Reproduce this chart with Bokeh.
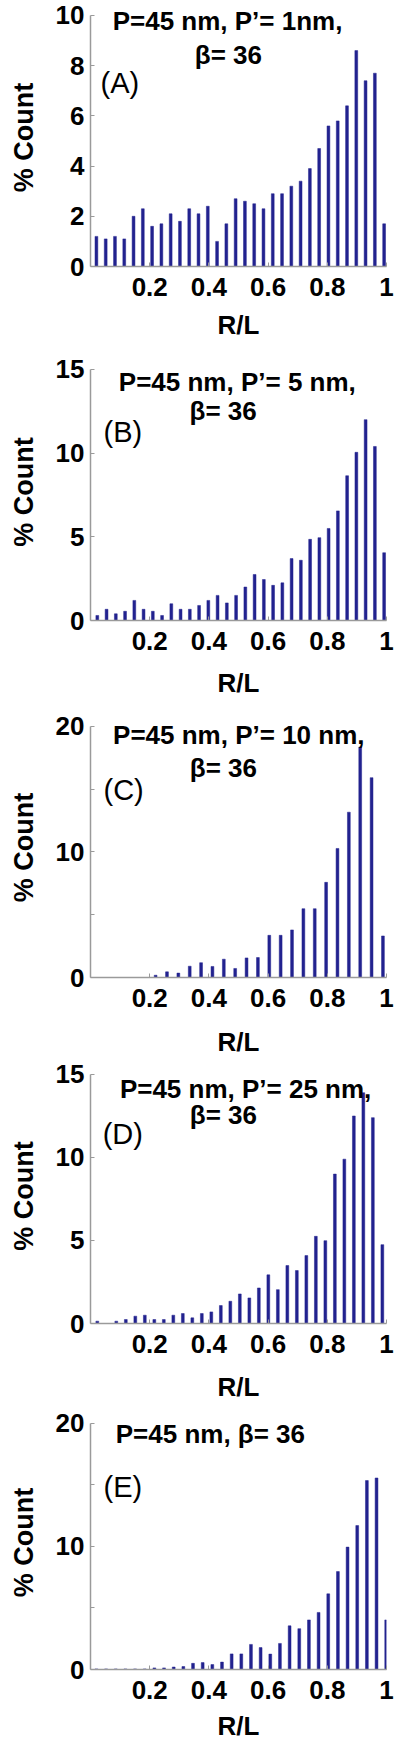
import numpy as np
from bokeh.plotting import figure
from bokeh.layouts import column
from bokeh.models import Range1d, FixedTicker, Label
from bokeh.embed import file_html
from bokeh.resources import INLINE

# ---------------- data ----------------
rl_ticks = [0.2, 0.4, 0.6, 0.8, 1.0]

# (A) P=45 nm, P'=1 nm
a_centers = np.linspace(0.020, 0.992, 32)
a_count = [1.2, 1.1, 1.2, 1.1, 2.0, 2.3, 1.6, 1.7, 2.1, 1.8, 2.3, 2.1, 2.4, 1.0, 1.7, 2.7,
           2.6, 2.5, 2.3, 2.9, 2.9, 3.2, 3.4, 3.9, 4.7, 5.6, 5.8, 6.4, 8.6, 7.4, 7.7, 1.7]
a_yticks = [0, 2, 4, 6, 8, 10]

# (B) P=45 nm, P'=5 nm
b_centers = np.linspace(0.023, 0.992, 32)
b_count = [0.3, 0.67, 0.4, 0.55, 1.2, 0.67, 0.55, 0.3, 1.0, 0.67, 0.67, 0.9, 1.2, 1.5, 1.05, 1.5,
           2.0, 2.75, 2.45, 2.1, 2.25, 3.7, 3.6, 4.85, 4.95, 5.5, 6.55, 8.65, 10.05, 12.0, 10.4, 4.05]
b_yticks = [0, 5, 10, 15]

# (C) P=45 nm, P'=10 nm
c_centers = np.linspace(0.220, 0.988, 21)
c_count = [0.18, 0.45, 0.35, 0.9, 1.18, 0.88, 1.46, 0.72, 1.56, 1.59, 3.36, 3.36, 3.79, 5.48,
           5.48, 7.58, 10.28, 13.17, 18.36, 15.92, 3.31]
c_yticks = [0, 10, 20]
c_yminor = [5, 15]

# (D) P=45 nm, P'=25 nm
d_centers = np.linspace(0.023, 0.986, 31)
d_count = [0.14, 0.0, 0.14, 0.24, 0.44, 0.5, 0.24, 0.24, 0.5, 0.6, 0.34, 0.6, 0.7, 1.08, 1.34,
           1.78, 1.54, 2.14, 2.93, 2.04, 3.49, 3.19, 4.09, 5.25, 4.99, 9.0, 9.9, 12.5, 13.9, 12.4, 4.75]
d_yticks = [0, 5, 10, 15]

# (E) P=45 nm
e_centers = np.linspace(0.020, 0.999, 31)
e_count = [0.05, 0.05, 0.05, 0.05, 0.05, 0.05, 0.13, 0.13, 0.2, 0.24, 0.5, 0.56, 0.4, 0.6, 1.27,
           1.27, 2.04, 1.78, 1.25, 2.12, 3.55, 3.32, 4.03, 4.64, 6.15, 7.96, 9.95, 11.7, 15.36, 15.57, 4.03]
e_yticks = [0, 10, 20]
e_yminor = [5, 15]

# ---------------- styling ----------------
FONT = "Liberation Sans"
BAR = "#22228f"
AX = "#9a9a9a"


def panel(centers, counts, ymax, yend, yticks, yminor, lines, letter, height, bt, bb,
          lab_stand):
    p = figure(width=395, height=height, x_range=Range1d(0, 1), y_range=Range1d(0, yend),
               output_backend="svg", toolbar_location=None,
               min_border_left=90, min_border_right=9, min_border_top=bt, min_border_bottom=bb)
    p.xgrid.visible = False
    p.ygrid.visible = False
    p.outline_line_color = None
    p.vbar(x=centers, top=counts, bottom=0, width=0.0095,
           fill_color=BAR, line_color=BAR, line_width=0.5)

    xa = p.xaxis[0]
    ya = p.yaxis[0]
    xa.ticker = FixedTicker(ticks=rl_ticks)
    xa.major_label_overrides = {1: "1"}
    ya.ticker = FixedTicker(ticks=yticks, minor_ticks=yminor)
    ya.bounds = (0, ymax)
    for ax in (xa, ya):
        ax.axis_line_color = AX
        ax.axis_line_width = 1.5
        ax.major_tick_line_color = AX
        ax.major_tick_in = 4
        ax.major_tick_out = 0
        ax.minor_tick_in = 4
        ax.minor_tick_out = 0
        ax.major_label_text_font = FONT
        ax.major_label_text_font_style = "bold"
        ax.major_label_text_font_size = "26px"
        ax.major_label_text_color = "black"
        ax.axis_label_text_font = FONT
        ax.axis_label_text_font_style = "bold"
        ax.axis_label_text_color = "black"
    xa.minor_tick_line_color = None
    ya.minor_tick_line_color = AX if yminor else None
    xa.major_label_standoff = 11
    ya.major_label_standoff = 6
    xa.axis_label = "R/L"
    xa.axis_label_text_font_size = "26px"
    xa.axis_label_standoff = lab_stand
    ya.axis_label = "% Count"
    ya.axis_label_text_font_size = "27px"
    ya.axis_label_standoff = 14

    for (tx, ty, tt) in lines:
        p.add_layout(Label(x=tx, y=ty, text=tt, text_align="center", text_baseline="middle",
                           text_font=FONT, text_font_style="bold", text_font_size="26px",
                           text_color="black"))
    lx, ly, lt = letter
    p.add_layout(Label(x=lx, y=ly, text=lt, text_align="left", text_baseline="middle",
                       text_font=FONT, text_font_size="29px", text_color="black"))
    return p


pa = panel(a_centers, a_count, 10, 10.278, a_yticks, [],
           [(0.463, 9.78, "P=45 nm, P’= 1nm,"), (0.466, 8.41, "β= 36")],
           (0.034, 7.32, "(A)"), 342, 8, 75, 11)
pb = panel(b_centers, b_count, 15, 15.357, b_yticks, [],
           [(0.496, 14.26, "P=45 nm, P’= 5 nm,"), (0.448, 12.51, "β= 36")],
           (0.044, 11.28, "(B)"), 358, 21, 79, 15)
pc = panel(c_centers, c_count, 20, 20.714, c_yticks, c_yminor,
           [(0.501, 19.28, "P=45 nm, P’= 10 nm,"), (0.449, 16.66, "β= 36")],
           (0.044, 14.9, "(C)"), 359, 17, 81, 17)
pd = panel(d_centers, d_count, 15, 15.36, d_yticks, [],
           [(0.524, 14.11, "P=45 nm, P’= 25 nm,"), (0.449, 12.55, "β= 36")],
           (0.041, 11.41, "(D)"), 345, 9, 80, 16)
pe = panel(e_centers, e_count, 20, 20.65, e_yticks, e_yminor,
           [(0.405, 19.11, "P=45 nm, β= 36")],
           (0.044, 14.84, "(E)"), 339, 11, 73, 9)

layout = column(pa, pb, pc, pd, pe, spacing=0)
open("out.html", "w").write(file_html(layout, INLINE))
